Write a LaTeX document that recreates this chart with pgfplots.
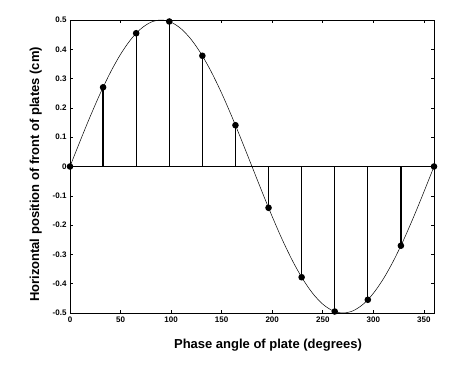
\documentclass[border=0pt]{standalone}
\usepackage{fontspec}
\setmainfont{Liberation Sans}
\usepackage{pgfplots}
\pgfplotsset{compat=1.18}
\begin{document}
\begin{tikzpicture}
\path[use as bounding box] (-70pt,-52pt) rectangle (404pt,313pt);
\begin{axis}[
  anchor=south west, at={(0pt,0pt)},
  scale only axis, width=364pt, height=293pt,
  xmin=0, xmax=360, ymin=-0.5, ymax=0.5,
  xtick={0,50,...,350},
  ytick={-0.5,-0.4,...,0.5},
  tick align=inside, major tick length=3pt,
  axis line style={line width=0.7pt},
  tick style={line width=0.6pt, black},
  ticklabel style={font=\fontsize{8}{9}\selectfont\bfseries},
  /pgf/number format/assume math mode=true,
  yticklabel style={/pgf/number format/.cd, fixed, precision=1},
  xticklabel style={/pgf/number format/.cd, fixed, precision=0},
  xlabel={Phase angle of plate (degrees)},
  ylabel={Horizontal position of front of plates (cm)},
  label style={font=\fontsize{13}{15}\selectfont\bfseries},
  xlabel style={yshift=-10pt, xshift=16pt},
  ylabel style={yshift=4pt, xshift=-8pt},
  clip=false,
]
% zero line
\addplot[black, line width=0.7pt] coordinates {(0,0) (360,0)};
% continuous sine curve
\addplot[black, line width=0.5pt, smooth] coordinates {
(0,0) (10,0.0868) (20,0.1710) (30,0.25) (40,0.3214) (50,0.3830) (60,0.4330)
(70,0.4698) (80,0.4924) (90,0.5) (100,0.4924) (110,0.4698) (120,0.4330)
(130,0.3830) (140,0.3214) (150,0.25) (160,0.1710) (170,0.0868) (180,0)
(190,-0.0868) (200,-0.1710) (210,-0.25) (220,-0.3214) (230,-0.3830) (240,-0.4330)
(250,-0.4698) (260,-0.4924) (270,-0.5) (280,-0.4924) (290,-0.4698) (300,-0.4330)
(310,-0.3830) (320,-0.3214) (330,-0.25) (340,-0.1710) (350,-0.0868) (360,0)
};
% sampled stems
\addplot[ycomb, black, line width=1.3pt, mark=*, mark size=2.6pt, mark options={fill=black}] coordinates {
(0,0) (32.73,0.2703) (65.45,0.4548) (98.18,0.4949) (130.91,0.3779) (163.64,0.1409)
(196.36,-0.1409) (229.09,-0.3779) (261.82,-0.4949) (294.55,-0.4548) (327.27,-0.2703) (360,0)
};
\end{axis}
\end{tikzpicture}
\end{document}
